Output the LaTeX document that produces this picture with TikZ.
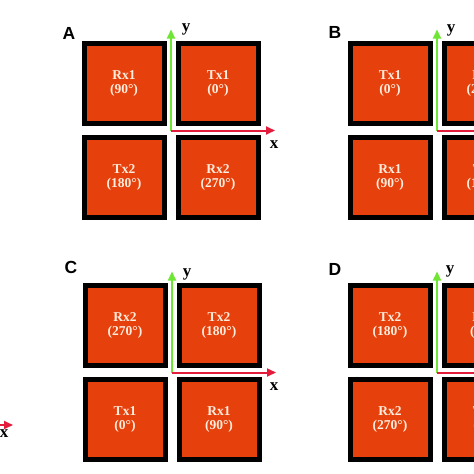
\documentclass[tikz,border=0pt]{standalone}
\usepackage{fontspec}
\setmainfont{Liberation Serif}
\newfontfamily\panelfont{Liberation Sans}
\usetikzlibrary{arrows.meta}

\definecolor{patchred}{RGB}{230,64,12}
\definecolor{axisred}{RGB}{228,28,60}
\definecolor{axisgreen}{RGB}{112,230,52}
\definecolor{textcream}{RGB}{255,238,222}

\tikzset{
    patch/.style={draw=black,line width=5pt,fill=patchred,minimum size=80pt,
        inner sep=0pt,align=center,text=textcream,
        font=\fontsize{13.5}{14.5}\selectfont\bfseries},
    xaxis/.style={draw=axisred,line width=2pt,-{Triangle[length=9pt,width=8pt]}},
    yaxis/.style={draw=axisgreen,line width=2pt,-{Triangle[length=9pt,width=8pt]}},
    axislabel/.style={inner sep=0pt,font=\fontsize{17}{17}\selectfont\bfseries},
    panellabel/.style={inner sep=0pt,font=\panelfont\fontsize{17.5}{17.5}\selectfont\bfseries}
}

\begin{document}
\begin{tikzpicture}[x=1pt,y=-1pt]
    \useasboundingbox (0,0) rectangle (474,474);
    \clip (0,0) rectangle (474,474);
    \fill[white] (0,0) rectangle (474,474);

    \newcommand{\AOX}{171}
    \newcommand{\AOY}{130.5}
    \node[panellabel] (a-lab) at (69,33) {A};
    \node[patch] (a-tl) at (\AOX-47,\AOY-47) {Rx1\\(90°)};
    \node[patch] (a-tr) at (\AOX+47,\AOY-47) {Tx1\\(0°)};
    \node[patch] (a-bl) at (\AOX-47,\AOY+47) {Tx2\\(180°)};
    \node[patch] (a-br) at (\AOX+47,\AOY+47) {Rx2\\(270°)};
    \coordinate (a-o) at (\AOX,\AOY);
    \coordinate (a-xe) at (\AOX+104,\AOY);
    \coordinate (a-ye) at (\AOX,\AOY-101);
    \draw[yaxis] (a-o) -- (a-ye);
    \draw[xaxis] (a-o) -- (a-xe);
    \node[axislabel] (a-y) at (\AOX+15,\AOY-101) {y};
    \node[axislabel] (a-x) at (\AOX+103,\AOY+14) {x};

    \newcommand{\BOX}{437}
    \newcommand{\BOY}{130.5}
    \node[panellabel] (b-lab) at (335,32) {B};
    \node[patch] (b-tl) at (\BOX-47,\BOY-47) {Tx1\\(0°)};
    \node[patch] (b-tr) at (\BOX+47,\BOY-47) {Rx2\\(270°)};
    \node[patch] (b-bl) at (\BOX-47,\BOY+47) {Rx1\\(90°)};
    \node[patch] (b-br) at (\BOX+47,\BOY+47) {Tx2\\(180°)};
    \coordinate (b-o) at (\BOX,\BOY);
    \coordinate (b-xe) at (\BOX+104,\BOY);
    \coordinate (b-ye) at (\BOX,\BOY-101);
    \draw[yaxis] (b-o) -- (b-ye);
    \draw[xaxis] (b-o) -- (b-xe);
    \node[axislabel] (b-y) at (\BOX+14,\BOY-100) {y};

    \newcommand{\COX}{172}
    \newcommand{\COY}{372.5}
    \node[panellabel] (c-lab) at (71,267) {C};
    \node[patch] (c-tl) at (\COX-47,\COY-47) {Rx2\\(270°)};
    \node[patch] (c-tr) at (\COX+47,\COY-47) {Tx2\\(180°)};
    \node[patch] (c-bl) at (\COX-47,\COY+47) {Tx1\\(0°)};
    \node[patch] (c-br) at (\COX+47,\COY+47) {Rx1\\(90°)};
    \coordinate (c-o) at (\COX,\COY);
    \coordinate (c-xe) at (\COX+104,\COY);
    \coordinate (c-ye) at (\COX,\COY-101);
    \draw[yaxis] (c-o) -- (c-ye);
    \draw[xaxis] (c-o) -- (c-xe);
    \node[axislabel] (c-y) at (\COX+15,\COY-98) {y};
    \node[axislabel] (c-x) at (\COX+102,\COY+14) {x};

    \newcommand{\DOX}{437}
    \newcommand{\DOY}{372.5}
    \node[panellabel] (d-lab) at (335,269) {D};
    \node[patch] (d-tl) at (\DOX-47,\DOY-47) {Tx2\\(180°)};
    \node[patch] (d-tr) at (\DOX+47,\DOY-47) {Rx1\\(90°)};
    \node[patch] (d-bl) at (\DOX-47,\DOY+47) {Rx2\\(270°)};
    \node[patch] (d-br) at (\DOX+47,\DOY+47) {Tx1\\(0°)};
    \coordinate (d-o) at (\DOX,\DOY);
    \coordinate (d-xe) at (\DOX+104,\DOY);
    \coordinate (d-ye) at (\DOX,\DOY-101);
    \draw[yaxis] (d-o) -- (d-ye);
    \draw[xaxis] (d-o) -- (d-xe);
    \node[axislabel] (d-y) at (\DOX+13,\DOY-101) {y};

    \coordinate (e-o) at (-20,425);
    \coordinate (e-xe) at (13,425);
    \draw[xaxis] (e-o) -- (e-xe);
    \node[axislabel] (e-x) at (4,434) {x};
\end{tikzpicture}
\end{document}
